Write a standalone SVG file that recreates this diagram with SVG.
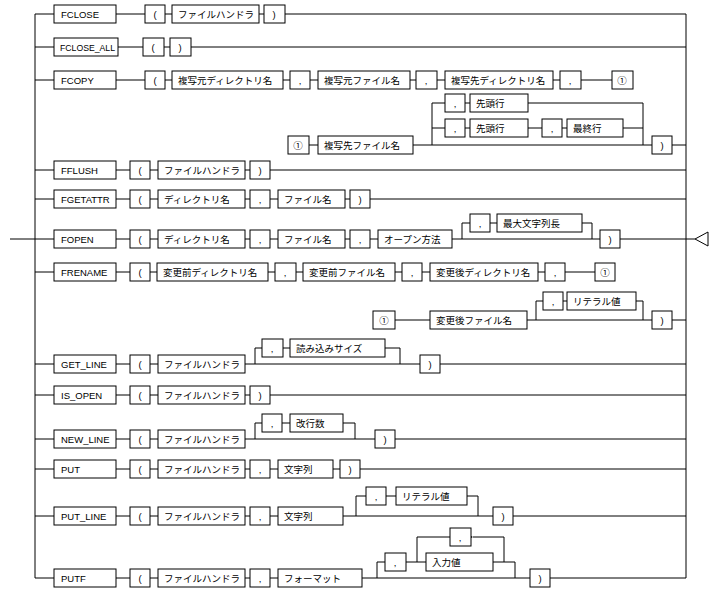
<svg xmlns="http://www.w3.org/2000/svg" width="715" height="593" viewBox="0 0 715 593">
<style>
rect{fill:#fff;stroke:#000;stroke-width:1}
path{fill:none;stroke:#000;stroke-width:1}
text{font-family:"Liberation Sans","Noto Sans CJK JP",sans-serif;font-size:9.5px;fill:#000}
.c{text-anchor:middle}
.m{font-family:"Noto Sans CJK JP","DejaVu Sans",sans-serif}
</style>
<defs><marker id="ah" markerWidth="8" markerHeight="8" markerUnits="userSpaceOnUse" refX="0" refY="3" orient="auto"><path d="M6,0 L0,3 L6,6 Z" style="fill:#000;stroke:none"/></marker></defs>
<rect width="715" height="593" style="stroke:none"/>
<g id="connectors">
<path d="M10,239H35M35,14V578M686,14V578M686,239H695"/>
<path d="M695,239L708,232V246Z" style="fill:#fff"/>
<path d="M35,14H54M116,14H145M165,14H172M259,14H264M285,14H686"/>
<path d="M35,47H54M118,47H143M164,47H170M191,47H686"/>
<path d="M35,80H54M116,80H145M165,80H172M283,80H290M310,80H318M410,80H416M437,80H445M553,80H560M581,80H612"/>
<path d="M309,145H318M413,145H652M672,145H686M432,145V103H445M465,103H470M528,103H643V145M432,128H445M465,128H470M528,128H542M562,128H567M623,128H643"/>
<path d="M35,170H54M116,170H130M150,170H158M245,170H250M270,170H686"/>
<path d="M35,199H54M116,199H130M150,199H158M245,199H250M270,199H278M345,199H350M370,199H686"/>
<path d="M35,239H54M116,239H130M150,239H158M245,239H250M270,239H278M345,239H350M370,239H378M452,239H600M620,239H686M462,239V223H470M490,223H497M582,223H592V239"/>
<path d="M35,272H54M116,272H130M150,272H157M268,272H275M296,272H303M395,272H402M422,272H430M538,272H545M565,272H595"/>
<path d="M395,320H430M527,320H652M672,320H686M536,320V301H543M563,301H567M636,301H643V320"/>
<path d="M35,364H54M116,364H130M150,364H158M245,364H420M440,364H686M255,364V348H262M283,348H290M385,348H400V364"/>
<path d="M35,395H54M116,395H130M150,395H158M245,395H250M270,395H686"/>
<path d="M35,439H54M116,439H130M150,439H158M245,439H375M395,439H686M255,439V423H262M282,423H290M343,423H355V439"/>
<path d="M35,469H54M116,469H130M150,469H158M245,469H250M270,469H278M333,469H340M360,469H686"/>
<path d="M35,516H54M116,516H130M150,516H158M245,516H250M270,516H278M343,516H493M513,516H686M356,516V496H366M386,496H396M467,496H478V516"/>
<path d="M35,578H54M116,578H130M150,578H158M245,578H250M270,578H278M362,578H530M550,578H686M377,578V562H385M406,562H426M493,562H515V578M417,562V537H450"/>
<path d="M504,562V537H473" marker-end="url(#ah)"/>
</g>
<g id="FCLOSE"><rect x="54" y="5" width="62" height="18"/><text x="61" y="18">FCLOSE</text><rect x="145" y="5" width="20" height="18"/><text x="155" y="18" class="c">(</text><rect x="172" y="5" width="87" height="18"/><text x="178" y="18">ファイルハンドラ</text><rect x="264" y="5" width="21" height="18"/><text x="274" y="18" class="c">)</text></g>
<g id="FCLOSE_ALL"><rect x="54" y="38" width="64" height="18"/><text x="60" y="51" textLength="55" lengthAdjust="spacingAndGlyphs">FCLOSE_ALL</text><rect x="143" y="38" width="21" height="18"/><text x="153" y="51" class="c">(</text><rect x="170" y="38" width="21" height="18"/><text x="180" y="51" class="c">)</text></g>
<g id="FCOPY"><rect x="54" y="71" width="62" height="18"/><text x="61" y="84">FCOPY</text><rect x="145" y="71" width="20" height="18"/><text x="155" y="84" class="c">(</text><rect x="172" y="71" width="111" height="18"/><text x="178" y="84">複写元ディレクトリ名</text><rect x="290" y="71" width="20" height="18"/><text x="300" y="84" class="c">,</text><rect x="318" y="71" width="92" height="18"/><text x="324" y="84">複写元ファイル名</text><rect x="416" y="71" width="21" height="18"/><text x="426" y="84" class="c">,</text><rect x="445" y="71" width="108" height="18"/><text x="451" y="84">複写先ディレクトリ名</text><rect x="560" y="71" width="21" height="18"/><text x="570" y="84" class="c">,</text><rect x="612" y="71" width="21" height="18"/><text x="622" y="84" class="c m">①</text></g>
<g id="FCOPY2"><rect x="288" y="136" width="21" height="18"/><text x="298" y="149" class="c m">①</text><rect x="318" y="136" width="95" height="18"/><text x="324" y="149">複写先ファイル名</text><rect x="445" y="94" width="20" height="18"/><text x="455" y="107" class="c">,</text><rect x="470" y="94" width="58" height="18"/><text x="476" y="107">先頭行</text><rect x="445" y="119" width="20" height="18"/><text x="455" y="132" class="c">,</text><rect x="470" y="119" width="58" height="18"/><text x="476" y="132">先頭行</text><rect x="542" y="119" width="20" height="18"/><text x="552" y="132" class="c">,</text><rect x="567" y="119" width="56" height="18"/><text x="573" y="132">最終行</text><rect x="652" y="136" width="20" height="18"/><text x="662" y="149" class="c">)</text></g>
<g id="FFLUSH"><rect x="54" y="161" width="62" height="18"/><text x="61" y="174">FFLUSH</text><rect x="130" y="161" width="20" height="18"/><text x="140" y="174" class="c">(</text><rect x="158" y="161" width="87" height="18"/><text x="164" y="174">ファイルハンドラ</text><rect x="250" y="161" width="20" height="18"/><text x="260" y="174" class="c">)</text></g>
<g id="FGETATTR"><rect x="54" y="190" width="62" height="18"/><text x="61" y="203">FGETATTR</text><rect x="130" y="190" width="20" height="18"/><text x="140" y="203" class="c">(</text><rect x="158" y="190" width="87" height="18"/><text x="164" y="203">ディレクトリ名</text><rect x="250" y="190" width="20" height="18"/><text x="260" y="203" class="c">,</text><rect x="278" y="190" width="67" height="18"/><text x="284" y="203">ファイル名</text><rect x="350" y="190" width="20" height="18"/><text x="360" y="203" class="c">)</text></g>
<g id="FOPEN"><rect x="54" y="230" width="62" height="18"/><text x="61" y="243">FOPEN</text><rect x="130" y="230" width="20" height="18"/><text x="140" y="243" class="c">(</text><rect x="158" y="230" width="87" height="18"/><text x="164" y="243">ディレクトリ名</text><rect x="250" y="230" width="20" height="18"/><text x="260" y="243" class="c">,</text><rect x="278" y="230" width="67" height="18"/><text x="284" y="243">ファイル名</text><rect x="350" y="230" width="20" height="18"/><text x="360" y="243" class="c">,</text><rect x="378" y="230" width="74" height="18"/><text x="384" y="243">オープン方法</text><rect x="470" y="214" width="20" height="18"/><text x="480" y="227" class="c">,</text><rect x="497" y="214" width="85" height="18"/><text x="503" y="227">最大文字列長</text><rect x="600" y="230" width="20" height="18"/><text x="610" y="243" class="c">)</text></g>
<g id="FRENAME"><rect x="54" y="263" width="62" height="18"/><text x="61" y="276">FRENAME</text><rect x="130" y="263" width="20" height="18"/><text x="140" y="276" class="c">(</text><rect x="157" y="263" width="111" height="18"/><text x="163" y="276">変更前ディレクトリ名</text><rect x="275" y="263" width="21" height="18"/><text x="285" y="276" class="c">,</text><rect x="303" y="263" width="92" height="18"/><text x="309" y="276">変更前ファイル名</text><rect x="402" y="263" width="20" height="18"/><text x="412" y="276" class="c">,</text><rect x="430" y="263" width="108" height="18"/><text x="436" y="276">変更後ディレクトリ名</text><rect x="545" y="263" width="20" height="18"/><text x="555" y="276" class="c">,</text><rect x="595" y="263" width="20" height="18"/><text x="605" y="276" class="c m">①</text></g>
<g id="FRENAME2"><rect x="373" y="311" width="22" height="18"/><text x="384" y="324" class="c m">①</text><rect x="430" y="311" width="97" height="18"/><text x="436" y="324">変更後ファイル名</text><rect x="543" y="292" width="20" height="18"/><text x="553" y="305" class="c">,</text><rect x="567" y="292" width="69" height="18"/><text x="573" y="305">リテラル値</text><rect x="652" y="311" width="20" height="18"/><text x="662" y="324" class="c">)</text></g>
<g id="GET_LINE"><rect x="54" y="355" width="62" height="18"/><text x="61" y="368">GET_LINE</text><rect x="130" y="355" width="20" height="18"/><text x="140" y="368" class="c">(</text><rect x="158" y="355" width="87" height="18"/><text x="164" y="368">ファイルハンドラ</text><rect x="262" y="339" width="21" height="18"/><text x="272" y="352" class="c">,</text><rect x="290" y="339" width="95" height="18"/><text x="296" y="352">読み込みサイズ</text><rect x="420" y="355" width="20" height="18"/><text x="430" y="368" class="c">)</text></g>
<g id="IS_OPEN"><rect x="54" y="386" width="62" height="18"/><text x="61" y="399">IS_OPEN</text><rect x="130" y="386" width="20" height="18"/><text x="140" y="399" class="c">(</text><rect x="158" y="386" width="87" height="18"/><text x="164" y="399">ファイルハンドラ</text><rect x="250" y="386" width="20" height="18"/><text x="260" y="399" class="c">)</text></g>
<g id="NEW_LINE"><rect x="54" y="430" width="62" height="18"/><text x="61" y="443">NEW_LINE</text><rect x="130" y="430" width="20" height="18"/><text x="140" y="443" class="c">(</text><rect x="158" y="430" width="87" height="18"/><text x="164" y="443">ファイルハンドラ</text><rect x="262" y="414" width="20" height="18"/><text x="272" y="427" class="c">,</text><rect x="290" y="414" width="53" height="18"/><text x="296" y="427">改行数</text><rect x="375" y="430" width="20" height="18"/><text x="385" y="443" class="c">)</text></g>
<g id="PUT"><rect x="54" y="460" width="62" height="18"/><text x="61" y="473">PUT</text><rect x="130" y="460" width="20" height="18"/><text x="140" y="473" class="c">(</text><rect x="158" y="460" width="87" height="18"/><text x="164" y="473">ファイルハンドラ</text><rect x="250" y="460" width="20" height="18"/><text x="260" y="473" class="c">,</text><rect x="278" y="460" width="55" height="18"/><text x="284" y="473">文字列</text><rect x="340" y="460" width="20" height="18"/><text x="350" y="473" class="c">)</text></g>
<g id="PUT_LINE"><rect x="54" y="507" width="62" height="18"/><text x="61" y="520">PUT_LINE</text><rect x="130" y="507" width="20" height="18"/><text x="140" y="520" class="c">(</text><rect x="158" y="507" width="87" height="18"/><text x="164" y="520">ファイルハンドラ</text><rect x="250" y="507" width="20" height="18"/><text x="260" y="520" class="c">,</text><rect x="278" y="507" width="65" height="18"/><text x="284" y="520">文字列</text><rect x="366" y="487" width="20" height="18"/><text x="376" y="500" class="c">,</text><rect x="396" y="487" width="71" height="18"/><text x="402" y="500">リテラル値</text><rect x="493" y="507" width="20" height="18"/><text x="503" y="520" class="c">)</text></g>
<g id="PUTF"><rect x="54" y="569" width="62" height="18"/><text x="61" y="582">PUTF</text><rect x="130" y="569" width="20" height="18"/><text x="140" y="582" class="c">(</text><rect x="158" y="569" width="87" height="18"/><text x="164" y="582">ファイルハンドラ</text><rect x="250" y="569" width="20" height="18"/><text x="260" y="582" class="c">,</text><rect x="278" y="569" width="84" height="18"/><text x="284" y="582">フォーマット</text><rect x="385" y="553" width="21" height="18"/><text x="395" y="566" class="c">,</text><rect x="426" y="553" width="67" height="18"/><text x="432" y="566">入力値</text><rect x="450" y="528" width="21" height="18"/><text x="460" y="541" class="c">,</text><rect x="530" y="569" width="20" height="18"/><text x="540" y="582" class="c">)</text></g>
</svg>
